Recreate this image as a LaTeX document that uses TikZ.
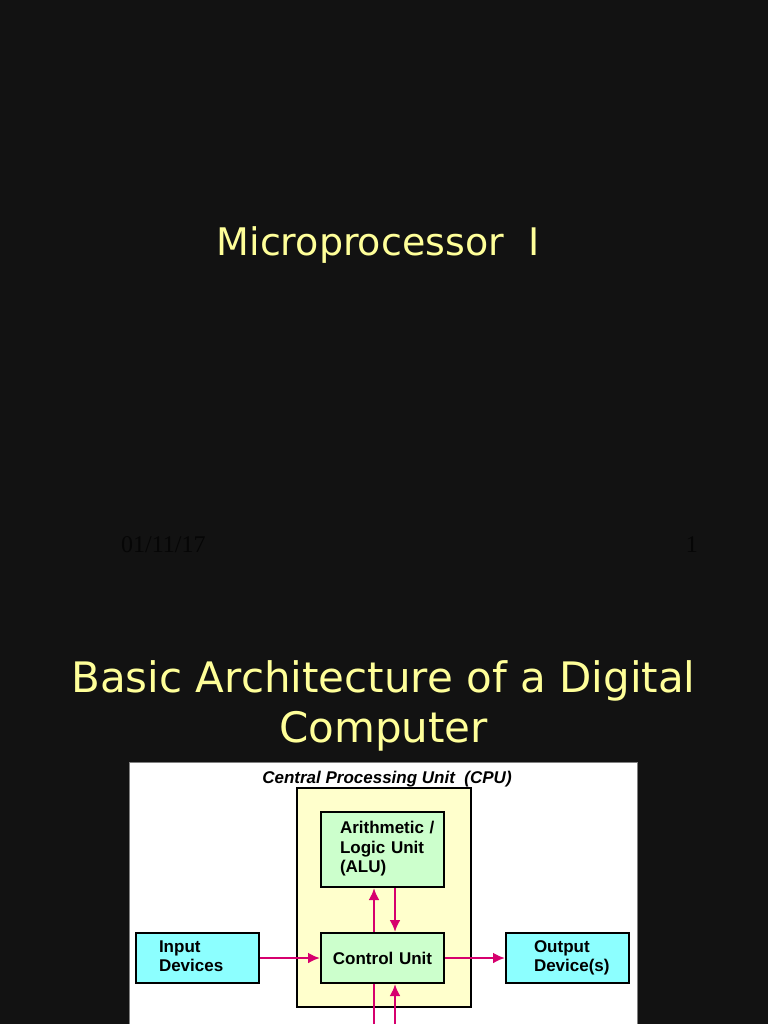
\documentclass[tikz,border=0pt]{standalone}
\usepackage{fontspec}
\setmainfont{Liberation Sans}
\newfontfamily\slidefont{DejaVu Sans}
\newfontfamily\datefont{Liberation Serif}
\usetikzlibrary{arrows.meta}

\definecolor{slidebg}{RGB}{18,18,18}
\definecolor{slideyellow}{RGB}{255,255,153}
\definecolor{datedark}{RGB}{6,6,6}
\definecolor{cpuyellow}{RGB}{255,255,204}
\definecolor{unitgreen}{RGB}{204,255,204}
\definecolor{devcyan}{RGB}{140,255,255}
\definecolor{buspink}{RGB}{214,0,110}

% text block of a unit box, pushed in from the left edge
\newcommand{\unittext}[2]{\begin{tabular}{@{\hspace{#1}}l@{}}#2\end{tabular}}

\begin{document}
\begin{tikzpicture}[x=1pt,y=-1pt,
  unit/.style={draw,line width=2pt,fill=unitgreen,text width=123pt,align=left,inner sep=0pt,font=\fontsize{17}{19.5}\selectfont\bfseries},
  device/.style={unit,fill=devcyan},
  bus/.style={buspink,line width=2.5pt}]
	\tikzset{>={Latex[length=12pt,width=11pt]}}

  \fill[slidebg] (0,0) rectangle (768,1024);
  \useasboundingbox (0,0) rectangle (768,1024);

  % title slide
  \node[slideyellow,font=\slidefont\fontsize{38}{44}\selectfont,anchor=base] (title) at (378,255) {Microprocessor\ \ I};
  \node[datedark,font=\datefont\fontsize{24}{28}\selectfont,anchor=base west,inner sep=0pt] (date) at (121,552) {01/11/17};
  \node[datedark,font=\datefont\fontsize{24}{28}\selectfont,anchor=base east,inner sep=0pt] (pagenum) at (698,552) {1};

  % second slide
  \node[slideyellow,font=\slidefont\fontsize{42}{50}\selectfont,align=center,anchor=north,inner sep=0pt] (heading) at (383.5,660) {Basic Architecture of a Digital\\Computer};

  \node[fill=white,draw=gray,line width=0.8pt,minimum width=508pt,minimum height=262pt,anchor=north west,inner sep=0pt] (panel) at (129,762) {};
  \node[font=\fontsize{17}{20}\selectfont\bfseries\itshape,anchor=base] (cpulabel) at (387,783) {Central Processing Unit\ \ (CPU)};

  \node[draw,line width=2pt,fill=cpuyellow,minimum width=174pt,minimum height=219pt,inner sep=0pt] (cpu) at (384,897.5) {};
  \node[unit,minimum height=75pt] (alu) at (382.5,849.5) {\unittext{19pt}{Arithmetic /\\Logic Unit\\(ALU)}};
  \node[unit,align=center,minimum height=50pt] (cu) at (382.5,958) {Control Unit};
  \node[device,minimum height=50pt] (indev) at (197.5,958) {\unittext{23pt}{Input\\Devices}};
  \node[device,minimum height=50pt] (outdev) at (567.5,958) {\unittext{28pt}{Output\\Device(s)}};

  \coordinate (upx) at (374,0);
  \coordinate (downx) at (395,0);
  \coordinate (memout) at (374,1030);
  \coordinate (memin) at (395,1030);

  \draw[bus,->] (cu.north -| upx) -- (alu.south -| upx);
  \draw[bus,->] (alu.south -| downx) -- (cu.north -| downx);
  \draw[bus,->] (indev) -- (cu);
  \draw[bus,->] (cu) -- (outdev);
  \draw[bus] (cu.south -| memout) -- (memout);
  \draw[bus,->] (memin) -- (cu.south -| memin);

\end{tikzpicture}
\end{document}
